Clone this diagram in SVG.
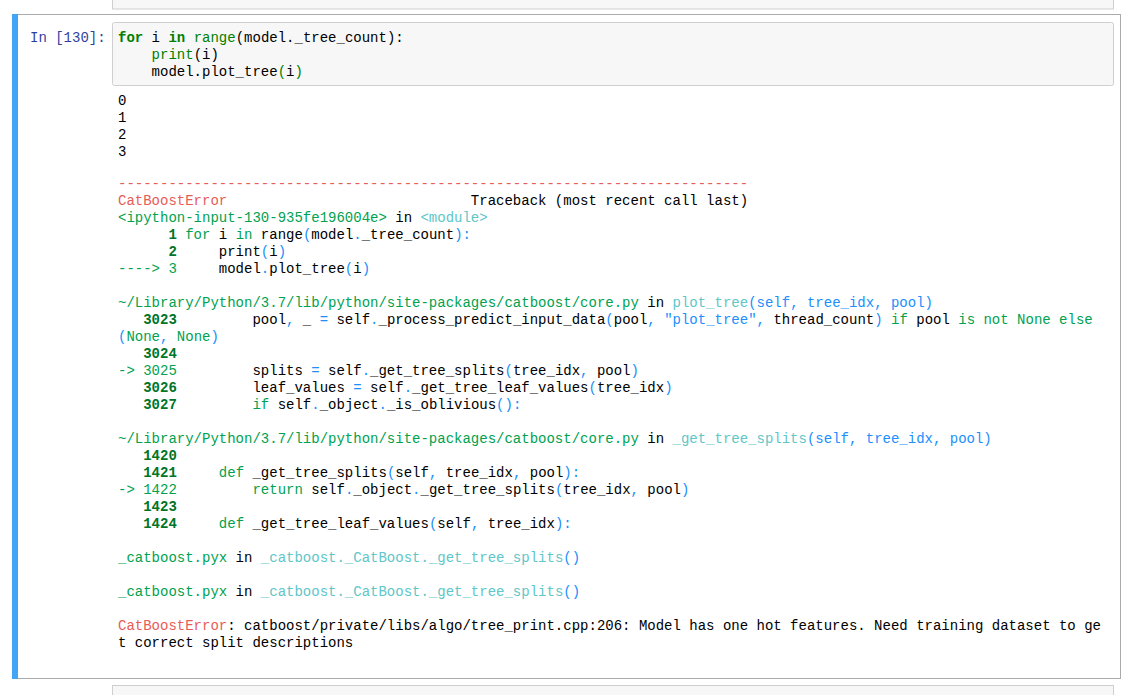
<svg xmlns="http://www.w3.org/2000/svg" width="1146" height="695" viewBox="0 0 1146 695">
<style>
text{font-family:"Liberation Mono","DejaVu Sans Mono",monospace;font-size:14px;white-space:pre;fill:#000}
.g{fill:#00a250}.G{fill:#007427;font-weight:bold}.c{fill:#60c6c8}.b{fill:#208ffb}.r{fill:#e75c58}
.k{fill:#008000;font-weight:bold}.p{fill:#008000}.pr{fill:#303f9f}
</style>
<rect width="1146" height="695" fill="#fff"/>
<g id="prev"><rect x="112.5" y="-10" width="1001" height="19" fill="#f7f7f7" stroke="#cfcfcf"/></g>
<g id="cell">
<rect x="12.5" y="14.5" width="1108" height="664" fill="#fff" stroke="#ababab"/>
<rect x="12" y="14" width="6" height="665" fill="#42a5f5"/>
<text x="30" y="42" class="pr">In [130]:</text>
<rect x="112.5" y="22.5" width="1001" height="63" fill="#f7f7f7" stroke="#cfcfcf" rx="2"/>
<text x="118" y="42"><tspan class="k">for</tspan> i <tspan class="k">in</tspan> <tspan class="p">range</tspan>(model._tree_count):</text>
<text x="118" y="59">    <tspan class="p">print</tspan>(i)</text>
<text x="118" y="76">    model.plot_tree<tspan class="p">(</tspan>i<tspan class="p">)</tspan></text>
</g>
<g id="output">
<text x="118" y="105">0</text>
<text x="118" y="122">1</text>
<text x="118" y="139">2</text>
<text x="118" y="156">3</text>
<text x="118" y="188" class="r">---------------------------------------------------------------------------</text>
<text x="118" y="205"><tspan class="r">CatBoostError</tspan>                             Traceback (most recent call last)</text>
<text x="118" y="222"><tspan class="g">&lt;ipython-input-130-935fe196004e&gt;</tspan> in <tspan class="c">&lt;module&gt;</tspan></text>
<text x="118" y="239"><tspan class="G">      1</tspan> <tspan class="g">for</tspan> i <tspan class="g">in</tspan> range<tspan class="b">(</tspan>model<tspan class="b">.</tspan>_tree_count<tspan class="b">):</tspan></text>
<text x="118" y="256"><tspan class="G">      2</tspan>     print<tspan class="b">(</tspan>i<tspan class="b">)</tspan></text>
<text x="118" y="273"><tspan class="g">----&gt; 3</tspan>     model<tspan class="b">.</tspan>plot_tree<tspan class="b">(</tspan>i<tspan class="b">)</tspan></text>
<text x="118" y="307"><tspan class="g">~/Library/Python/3.7/lib/python/site-packages/catboost/core.py</tspan> in <tspan class="c">plot_tree</tspan><tspan class="b">(self, tree_idx, pool)</tspan></text>
<text x="118" y="324"><tspan class="G">   3023</tspan>         pool<tspan class="b">,</tspan> _ <tspan class="b">=</tspan> self<tspan class="b">.</tspan>_process_predict_input_data<tspan class="b">(</tspan>pool<tspan class="b">,</tspan> <tspan class="b">"plot_tree"</tspan><tspan class="b">,</tspan> thread_count<tspan class="b">)</tspan> <tspan class="g">if</tspan> pool <tspan class="g">is</tspan> <tspan class="g">not</tspan> <tspan class="g">None</tspan> <tspan class="g">else</tspan></text>
<text x="118" y="341"><tspan class="b">(</tspan><tspan class="g">None</tspan><tspan class="b">,</tspan> <tspan class="g">None</tspan><tspan class="b">)</tspan></text>
<text x="118" y="358"><tspan class="G">   3024</tspan></text>
<text x="118" y="375"><tspan class="g">-&gt; 3025</tspan>         splits <tspan class="b">=</tspan> self<tspan class="b">.</tspan>_get_tree_splits<tspan class="b">(</tspan>tree_idx<tspan class="b">,</tspan> pool<tspan class="b">)</tspan></text>
<text x="118" y="392"><tspan class="G">   3026</tspan>         leaf_values <tspan class="b">=</tspan> self<tspan class="b">.</tspan>_get_tree_leaf_values<tspan class="b">(</tspan>tree_idx<tspan class="b">)</tspan></text>
<text x="118" y="409"><tspan class="G">   3027</tspan>         <tspan class="g">if</tspan> self<tspan class="b">.</tspan>_object<tspan class="b">.</tspan>_is_oblivious<tspan class="b">():</tspan></text>
<text x="118" y="443"><tspan class="g">~/Library/Python/3.7/lib/python/site-packages/catboost/core.py</tspan> in <tspan class="c">_get_tree_splits</tspan><tspan class="b">(self, tree_idx, pool)</tspan></text>
<text x="118" y="460"><tspan class="G">   1420</tspan></text>
<text x="118" y="477"><tspan class="G">   1421</tspan>     <tspan class="g">def</tspan> _get_tree_splits<tspan class="b">(</tspan>self<tspan class="b">,</tspan> tree_idx<tspan class="b">,</tspan> pool<tspan class="b">):</tspan></text>
<text x="118" y="494"><tspan class="g">-&gt; 1422</tspan>         <tspan class="g">return</tspan> self<tspan class="b">.</tspan>_object<tspan class="b">.</tspan>_get_tree_splits<tspan class="b">(</tspan>tree_idx<tspan class="b">,</tspan> pool<tspan class="b">)</tspan></text>
<text x="118" y="511"><tspan class="G">   1423</tspan></text>
<text x="118" y="528"><tspan class="G">   1424</tspan>     <tspan class="g">def</tspan> _get_tree_leaf_values<tspan class="b">(</tspan>self<tspan class="b">,</tspan> tree_idx<tspan class="b">):</tspan></text>
<text x="118" y="562"><tspan class="g">_catboost.pyx</tspan> in <tspan class="c">_catboost._CatBoost._get_tree_splits</tspan><tspan class="b">()</tspan></text>
<text x="118" y="596"><tspan class="g">_catboost.pyx</tspan> in <tspan class="c">_catboost._CatBoost._get_tree_splits</tspan><tspan class="b">()</tspan></text>
<text x="118" y="630"><tspan class="r">CatBoostError</tspan>: catboost/private/libs/algo/tree_print.cpp:206: Model has one hot features. Need training dataset to ge</text>
<text x="118" y="647">t correct split descriptions</text>
</g>
<g id="next"><rect x="112.5" y="685.5" width="1001" height="20" fill="#f7f7f7" stroke="#cfcfcf"/></g>
</svg>
